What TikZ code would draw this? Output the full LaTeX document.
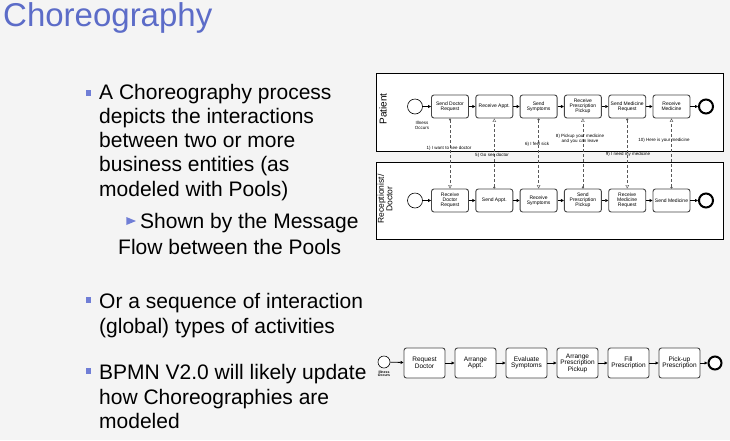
\documentclass[tikz,border=0pt]{standalone}
\usepackage{fontspec}
\setmainfont{Liberation Sans}
\usetikzlibrary{arrows.meta}
\usetikzlibrary{shapes.geometric}

\definecolor{slidebg}{RGB}{244,244,244}
\definecolor{titleblue}{RGB}{92,108,200}
\definecolor{bulletblue}{RGB}{112,126,214}
\definecolor{taskgray}{RGB}{70,70,70}

\newcommand{\pxfont}[1]{\fontsize{#1}{#1}\selectfont}

\tikzset{
  line/.style={anchor=base west,inner sep=0pt,font=\pxfont{21},text=black},
  bulletsq/.style={rectangle,fill=bulletblue,minimum width=5.5pt,minimum height=5.5pt,inner sep=0pt},
  task/.style={draw=taskgray,line width=0.9pt,rounded corners=2.5pt,fill=white,
    minimum width=37pt,minimum height=23pt,inner sep=0pt,align=center,
    font=\pxfont{5}},
  bigtask/.style={task,minimum width=41pt,minimum height=30pt,font=\pxfont{6.5}},
  startev/.style={circle,draw=black,line width=0.6pt,fill=white,inner sep=0pt},
  endev/.style={circle,draw=black,line width=2pt,fill=white,inner sep=0pt},
  seqflow/.style={-{Triangle[length=3pt,width=3pt]},line width=0.8pt},
  msgflow/.style={{Circle[length=2.2pt]}-{Triangle[open,length=3.5pt,width=3.5pt]},
    densely dashed,line width=0.4pt,gray!70!black},
  msglabel/.style={font=\pxfont{4.5},inner sep=0pt,align=center},
}

\begin{document}
\begin{tikzpicture}[x=1pt,y=-1pt]

\fill[slidebg] (0,0) rectangle (730,440);
\useasboundingbox (0,0) rectangle (730,440);

% title
\node[anchor=base west,inner sep=0pt,font=\pxfont{33},text=titleblue] (title) at (3,26.5) {Choreography};

% bullets
\node[bulletsq] (b1) at (88.5,93) {};
\node[line] (t1) at (99,99) {A Choreography process};
\node[line] (t2) at (99,123) {depicts the interactions};
\node[line] (t3) at (99,147) {between two or more};
\node[line] (t4) at (99,171) {business entities (as};
\node[line] (t5) at (99,196) {modeled with Pools)};
\node[isosceles triangle,fill=bulletblue,minimum height=6pt,minimum width=8pt,inner sep=0pt] (b1a) at (129,221) {};
\node[line] (t6) at (140,228) {Shown by the Message};
\node[line] (t7) at (118,254) {Flow between the Pools};

\node[bulletsq] (b2) at (88.5,300) {};
\node[line] (t8) at (99,308) {Or a sequence of interaction};
\node[line] (t9) at (99,333) {(global) types of activities};

\node[bulletsq] (b3) at (88.5,371) {};
\node[line] (t10) at (99,379) {BPMN V2.0 will likely update};
\node[line] (t11) at (99,404) {how Choreographies are};
\node[line] (t12) at (99,428) {modeled};

% pools
\draw[line width=1pt,fill=white] (376,73) rectangle (723,151);
\draw[line width=1pt,fill=white] (376,162) rectangle (723,239);
\node[rotate=90,font=\pxfont{10}] (patient) at (383,109) {Patient};
\node[rotate=90,font=\pxfont{8.5},align=center,inner sep=0pt] (recept) at (385,199) {Receptionist/\\Doctor};

% patient lane
\node[startev,minimum size=15pt] (pstart) at (415,106.5) {};
\node[msglabel] (pill) at (422,125.5) {Illness\\[1pt]Occurs};
\node[task] (p1) at (450,106.5) {Send Doctor\\Request};
\node[task] (p2) at (494.3,106.5) {Receive Appt.};
\node[task] (p3) at (538.6,106.5) {Send\\Symptoms};
\node[task] (p4) at (582.9,106.5) {Receive\\Prescription\\Pickup};
\node[task] (p5) at (627.2,106.5) {Send Medicine\\Request};
\node[task] (p6) at (671.5,106.5) {Receive\\Medicine};
\node[endev,minimum size=14pt] (pend) at (706,106.5) {};

\draw[seqflow] (pstart) -- (p1);
\draw[seqflow] (p1) -- (p2);
\draw[seqflow] (p2) -- (p3);
\draw[seqflow] (p3) -- (p4);
\draw[seqflow] (p4) -- (p5);
\draw[seqflow] (p5) -- (p6);
\draw[seqflow] (p6) -- (pend);

% receptionist lane
\node[startev,minimum size=15pt] (rstart) at (415,200.5) {};
\node[task] (r1) at (450,200.5) {Receive\\Doctor\\Request};
\node[task] (r2) at (494.3,200.5) {Send Appt.};
\node[task] (r3) at (538.6,200.5) {Receive\\Symptoms};
\node[task] (r4) at (582.9,200.5) {Send\\Prescription\\Pickup};
\node[task] (r5) at (627.2,200.5) {Receive\\Medicine\\Request};
\node[task] (r6) at (671.5,200.5) {Send Medicine};
\node[endev,minimum size=14pt] (rend) at (706,200.5) {};

\draw[seqflow] (rstart) -- (r1);
\draw[seqflow] (r1) -- (r2);
\draw[seqflow] (r2) -- (r3);
\draw[seqflow] (r3) -- (r4);
\draw[seqflow] (r4) -- (r5);
\draw[seqflow] (r5) -- (r6);
\draw[seqflow] (r6) -- (rend);

% message flows
\draw[msgflow] (p1.south) -- (r1.north); %1
\draw[msgflow] (r2.north) -- (p2.south); %5
\draw[msgflow] (p3.south) -- (r3.north); %6
\draw[msgflow] (r4.north) -- (p4.south); %8
\draw[msgflow] (p5.south) -- (r5.north); %9
\draw[msgflow] (r6.north) -- (p6.south); %10

\node[msglabel] (m1) at (449,148) {1) I want to see doctor};
\node[msglabel] (m5) at (492,155.5) {5) Go see doctor};
\node[msglabel] (m6) at (537,144) {6) I feel sick};
\node[msglabel] (m8) at (580,138.5) {8) Pickup your medicine\\[0.5pt]and you can leave};
\node[msglabel] (m9) at (628,154) {9) I need my medicine};
\node[msglabel] (m10) at (664,140) {10) Here is your medicine};

% global sequence
\node[startev,minimum size=12pt] (gstart) at (384,362) {};
\node[font=\bfseries\pxfont{3.5},align=center,inner sep=0pt] (gill) at (384,373.5) {Illness\\Occurs};
\node[bigtask] (g1) at (424.5,363) {Request\\Doctor};
\node[bigtask] (g2) at (475.5,363) {Arrange\\Appt.};
\node[bigtask] (g3) at (526.5,363) {Evaluate\\Symptoms};
\node[bigtask] (g4) at (577.5,363) {Arrange\\Prescription\\Pickup};
\node[bigtask] (g5) at (628.5,363) {Fill\\Prescription};
\node[bigtask] (g6) at (679.5,363) {Pick-up\\Prescription};
\node[endev,minimum size=13pt] (gend) at (715,363) {};

\draw[seqflow] (gstart) -- (g1);
\draw[seqflow] (g1) -- (g2);
\draw[seqflow] (g2) -- (g3);
\draw[seqflow] (g3) -- (g4);
\draw[seqflow] (g4) -- (g5);
\draw[seqflow] (g5) -- (g6);
\draw[seqflow] (g6) -- (gend);

\end{tikzpicture}
\end{document}
